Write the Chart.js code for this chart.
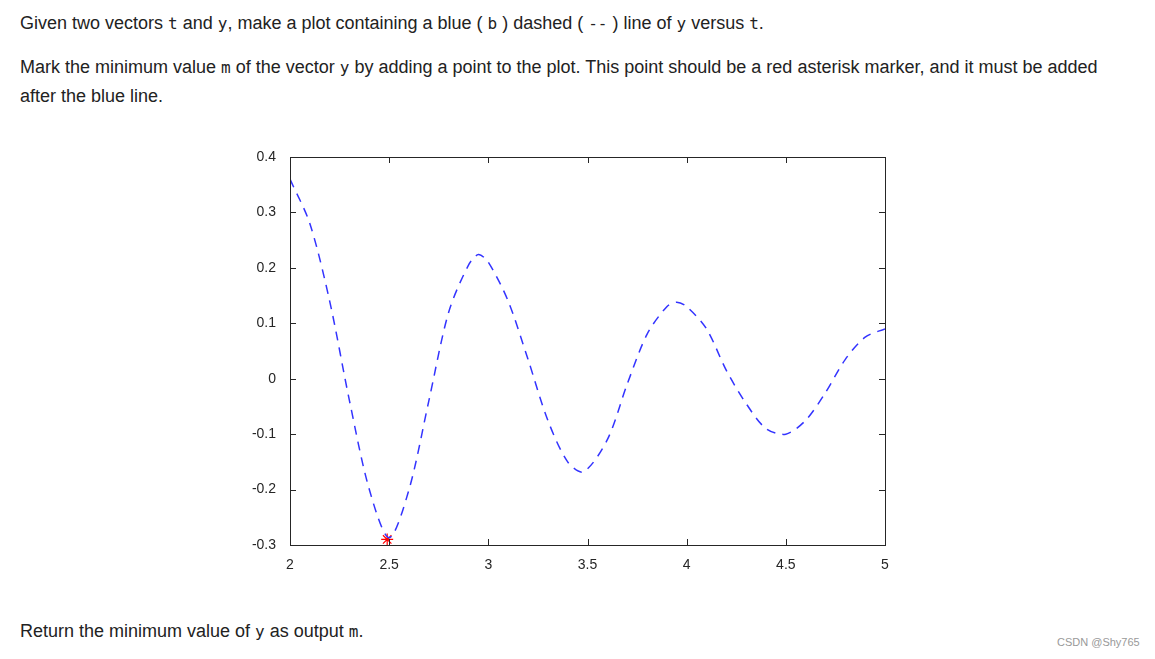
<!DOCTYPE html>
<html><head><meta charset="utf-8">
<script src="https://cdn.jsdelivr.net/npm/chart.js@4"></script>
<style>
body{margin:0;background:#fff;font-family:"Liberation Sans",Arial,sans-serif;color:#222;font-size:18px;}
code{font-family:"DejaVu Sans Mono",monospace;font-size:16px;}
.t{position:absolute;left:20px;}
#wrap{position:absolute;left:230px;top:140px;width:680px;height:440px;}
#wm{position:absolute;left:1057px;top:636px;font-size:11px;color:#999;}
</style></head><body>
<div class="t" style="top:13px">Given two vectors <code>t</code> and <code>y</code>, make a plot containing a blue ( <code>b</code> ) dashed ( <code>--</code> ) line of <code>y</code> versus <code>t</code>.</div>
<div class="t" style="top:53px;line-height:29px;width:1115px">Mark the minimum value <code>m</code> of the vector <code>y</code> by adding a point to the plot. This point should be a red asterisk marker, and it must be added after the blue line.</div>
<div class="t" style="top:621px">Return the minimum value of <code>y</code> as output <code>m</code>.</div>
<div id="wm">CSDN @Shy765</div>
<div id="wrap"><canvas id="c"></canvas></div>
<script>
const tVals = [2.0,2.1,2.2,2.3,2.4,2.5,2.6,2.7,2.8,2.9,2.95,3.0,3.1,3.2,3.3,3.4,3.48,3.6,3.7,3.8,3.9,3.95,4.0,4.1,4.2,4.3,4.4,4.5,4.6,4.7,4.8,4.9,5.0];
const yVals = [0.36,0.28,0.14,-0.04,-0.2,-0.287,-0.2,-0.04,0.12,0.205,0.224,0.21,0.14,0.035,-0.075,-0.15,-0.168,-0.11,-0.01,0.08,0.13,0.138,0.13,0.09,0.015,-0.045,-0.09,-0.1,-0.075,-0.025,0.035,0.075,0.09];
const minPoint = {x:2.49, y:-0.29};
const xTicks = [2,2.5,3,3.5,4,4.5,5];
const yTicks = [-0.3,-0.2,-0.1,0,0.1,0.2,0.3,0.4];

// inward ticks + box like MATLAB axes
const boxTicks = {
  id:'boxTicks',
  afterDraw(chart){
    const {ctx, chartArea:a, scales:{x,y}} = chart;
    ctx.save();
    ctx.strokeStyle='#262626'; ctx.lineWidth=1;
    ctx.strokeRect(a.left+0.5,a.top+0.5,a.right-a.left,a.bottom-a.top);
    ctx.beginPath();
    xTicks.forEach(v=>{const p=Math.round(x.getPixelForValue(v))+0.5;
      ctx.moveTo(p,a.bottom);ctx.lineTo(p,a.bottom-6);ctx.moveTo(p,a.top);ctx.lineTo(p,a.top+6);});
    yTicks.forEach(v=>{const p=Math.round(y.getPixelForValue(v))+0.5;
      ctx.moveTo(a.left,p);ctx.lineTo(a.left+6,p);ctx.moveTo(a.right,p);ctx.lineTo(a.right-6,p);});
    ctx.stroke();
    ctx.restore();
  }
};

new Chart(document.getElementById('c'), {
  type:'line',
  data:{datasets:[
    {data:tVals.map((t,i)=>({x:t,y:yVals[i]})),borderColor:'#3333ff',borderWidth:1.5,borderDash:[9,7],
     pointRadius:0,tension:0.3,fill:false},
    {type:'scatter',data:[minPoint],pointStyle:'star',pointRadius:6,borderColor:'#ff0000',borderWidth:1.2,backgroundColor:'#ff0000'}
  ]},
  options:{
    responsive:true,maintainAspectRatio:false,animation:false,
    layout:{padding:{top:17,right:25}},
    plugins:{legend:{display:false},tooltip:{enabled:false}},
    scales:{
      x:{type:'linear',min:2,max:5,grid:{display:false},border:{display:false},
        afterBuildTicks:s=>{s.ticks=xTicks.map(v=>({value:v}));},
        afterFit:s=>{s.height=35;},
        ticks:{color:'#262626',font:{family:'Liberation Sans',size:14},padding:4,maxRotation:0,callback:v=>String(v)}},
      y:{min:-0.3,max:0.4,grid:{display:false},border:{display:false},
        afterBuildTicks:s=>{s.ticks=yTicks.map(v=>({value:v}));},
        afterFit:s=>{s.width=60;},
        ticks:{color:'#262626',font:{family:'Liberation Sans',size:14},padding:6,callback:v=>String(v)}}
    }
  },
  plugins:[boxTicks]
});
</script>
</body></html>
